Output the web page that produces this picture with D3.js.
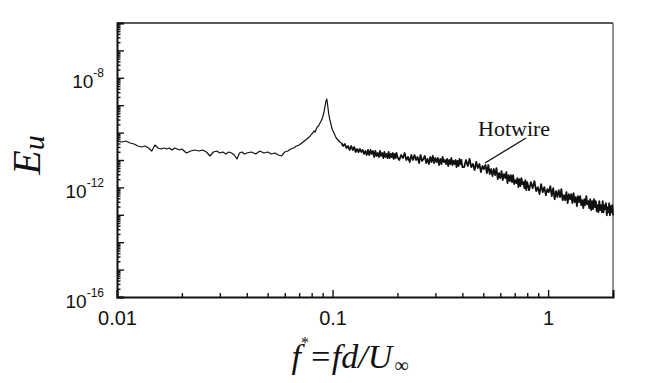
<!DOCTYPE html>
<html><head><meta charset="utf-8">
<script src="https://cdn.jsdelivr.net/npm/d3@7/dist/d3.min.js"></script>
<style>body{margin:0;background:#fff}svg{display:block}</style>
</head><body><svg id="c" width="650" height="383"></svg>
<script>
// ---- data ----
const freqLow = [0.0100,0.0105,0.0110,0.0115,0.0120,0.0125,0.0130,0.0135,0.0140,0.0145,0.0150,0.0155,0.0160,0.0165,0.0170,0.0175,0.0180,0.0185,0.0190,0.0195,0.0200,
 0.021,0.022,0.023,0.024,0.025,0.026,0.027,0.028,0.029,0.030,0.031,0.032,0.033,0.034,0.035,0.036,0.037,0.038,0.039,0.040,
 0.042,0.044,0.046,0.048,0.050,0.052,0.054,0.056,0.058,0.060,0.062,0.064,0.066,0.068,0.070,0.072,0.074,0.076,0.078,0.080];
const euLow = [4.93e-11,4.54e-11,4.93e-11,4.17e-11,3.83e-11,3.24e-11,2.98e-11,3.24e-11,2.74e-11,2.13e-11,3.52e-11,2.74e-11,2.52e-11,2.74e-11,2.52e-11,2.74e-11,2.32e-11,2.74e-11,2.52e-11,2.32e-11,2.52e-11,
 1.80e-11,2.13e-11,2.32e-11,2.13e-11,2.32e-11,1.96e-11,1.40e-11,1.96e-11,2.13e-11,1.80e-11,1.96e-11,1.66e-11,1.96e-11,1.80e-11,1.52e-11,1.09e-11,1.80e-11,1.96e-11,1.66e-11,1.80e-11,
 1.96e-11,1.66e-11,2.13e-11,1.80e-11,1.96e-11,1.66e-11,1.80e-11,1.52e-11,1.40e-11,1.96e-11,2.13e-11,2.52e-11,2.74e-11,3.24e-11,3.52e-11,4.17e-11,4.93e-11,5.84e-11,6.90e-11,8.89e-11];

const freqPeak = [0.081,0.082,0.083,0.084,0.085,0.086,0.087,0.088,0.089,0.090,0.091,0.092,0.093,0.094,0.095,0.096,0.097,0.098,0.099,0.100,0.102,0.104,0.106,0.108,0.110];
const euPeak = [9.67e-11,1.14e-10,1.05e-10,1.35e-10,1.60e-10,1.74e-10,2.06e-10,2.44e-10,2.88e-10,3.71e-10,5.19e-10,7.91e-10,1.31e-9,1.68e-9,9.35e-10,4.77e-10,3.13e-10,2.24e-10,1.60e-10,1.24e-10,8.89e-11,6.35e-11,5.37e-11,4.54e-11,4.17e-11];

const freqHigh = [0.112,0.114,0.116,0.118,0.120,0.122,0.124,0.126,0.128,0.130,0.132,0.134,0.136,0.138,0.140,0.142,0.144,0.146,0.148,0.150,0.152,0.154,0.156,0.158,0.160,0.162,0.164,0.166,0.168,0.170,0.172,0.174,0.176,0.178,0.180,0.182,0.184,0.186,0.188,0.190,0.192,0.194,0.196,0.198,0.200,
 0.204,0.208,0.212,0.216,0.220,0.224,0.228,0.232,0.236,0.240,0.244,0.248,0.252,0.256,0.260,0.264,0.268,0.272,0.276,0.280,0.284,0.288,0.292,0.296,0.300,0.304,0.308,0.312,0.316,0.320,0.324,0.328,0.332,0.336,0.340,0.344,0.348,0.352,0.356,0.360,0.364,0.368,0.372,0.376,0.380,0.384,0.388,0.392,0.396,0.400,
 0.408,0.416,0.424,0.432,0.440,0.448,0.456,0.464,0.472,0.480,0.488,0.496,0.504,0.512,0.520,0.528,0.536,0.544,0.552,0.560,0.568,0.576,0.584,0.592,0.600,0.608,0.616,0.624,0.632,0.640,0.648,0.656,0.664,0.672,0.680,0.688,0.696,0.704,0.712,0.720,0.728,0.736,0.744,0.752,0.760,0.768,0.776,0.784,0.792,0.800,
 0.816,0.832,0.848,0.864,0.880,0.896,0.912,0.928,0.944,0.960,0.976,0.992,1.008,1.024,1.040,1.056,1.072,1.088,1.104,1.120,1.136,1.152,1.168,1.184,1.200,1.216,1.232,1.248,1.264,1.280,1.296,1.312,1.328,1.344,1.360,1.376,1.392,1.408,1.424,1.440,1.456,1.472,1.488,1.504,1.520,1.536,1.552,1.568,1.584,1.600,1.616,1.632,1.648,1.664,1.680,1.696,1.712,1.728,1.744,1.760,1.776,1.792,1.808,1.824,1.840,1.856,1.872,1.888,1.904,1.920,1.936,1.952,1.968,1.984,2.000];
const euHigh = [3.24e-11,3.83e-11,2.74e-11,3.24e-11,2.32e-11,3.24e-11,2.32e-11,2.98e-11,1.96e-11,2.52e-11,1.96e-11,2.52e-11,1.96e-11,2.32e-11,1.66e-11,2.13e-11,1.52e-11,2.32e-11,1.52e-11,2.32e-11,1.66e-11,2.13e-11,1.29e-11,2.13e-11,1.40e-11,1.80e-11,1.29e-11,2.13e-11,1.40e-11,1.80e-11,1.18e-11,1.96e-11,1.29e-11,1.66e-11,1.18e-11,1.96e-11,1.18e-11,1.66e-11,1.29e-11,1.80e-11,1.09e-11,1.66e-11,1.18e-11,1.80e-11,1.29e-11,
 1.00e-11,1.52e-11,1.18e-11,1.80e-11,1.00e-11,1.29e-11,8.45e-12,1.52e-11,1.00e-11,1.52e-11,1.00e-11,1.29e-11,7.77e-12,1.52e-11,9.2e-12,1.09e-11,1.40e-11,7.77e-12,1.09e-11,7.14e-12,1.29e-11,8.45e-12,1.40e-11,7.77e-12,1.18e-11,8.45e-12,1.18e-11,6.56e-12,1.09e-11,7.14e-12,1.29e-11,8.45e-12,1.00e-11,7.14e-12,1.09e-11,6.03e-12,1.00e-11,7.14e-12,1.18e-11,6.56e-12,9.2e-12,7.14e-12,1.00e-11,5.54e-12,9.2e-12,6.03e-12,1.09e-11,7.14e-12,1.00e-11,5.54e-12,
 5.54e-12,1.00e-11,6.03e-12,1.09e-11,5.54e-12,7.14e-12,4.30e-12,8.45e-12,5.09e-12,7.14e-12,3.63e-12,6.03e-12,4.68e-12,6.56e-12,3.34e-12,6.56e-12,3.07e-12,4.68e-12,2.59e-12,4.68e-12,2.82e-12,5.09e-12,2.01e-12,3.34e-12,2.19e-12,3.95e-12,1.85e-12,3.07e-12,2.19e-12,3.63e-12,1.44e-12,2.82e-12,1.70e-12,2.82e-12,1.56e-12,2.82e-12,1.32e-12,1.85e-12,1.44e-12,2.19e-12,1.02e-12,2.01e-12,1.11e-12,2.19e-12,1.32e-12,1.56e-12,9.4e-13,1.85e-12,7.9e-13,1.56e-12,
 7.9e-13,1.56e-12,9.4e-13,1.70e-12,7.3e-13,1.02e-12,5.7e-13,1.32e-12,6.7e-13,1.02e-12,5.2e-13,8.6e-13,6.7e-13,1.11e-12,4.8e-13,9.4e-13,3.7e-13,7.3e-13,4.4e-13,7.9e-13,4.4e-13,8.6e-13,3.4e-13,5.2e-13,3.4e-13,6.7e-13,2.65e-13,5.7e-13,3.7e-13,5.7e-13,2.65e-13,6.2e-13,2.9e-13,4.4e-13,2.05e-13,4.8e-13,2.9e-13,4.8e-13,2.25e-13,3.4e-13,1.75e-13,3.7e-13,2.25e-13,4.8e-13,2.45e-13,3.15e-13,1.75e-13,3.7e-13,1.47e-13,3.15e-13,1.6e-13,3.7e-13,1.9e-13,3.15e-13,1.35e-13,2.25e-13,1.24e-13,3.15e-13,1.47e-13,2.25e-13,1.24e-13,3.15e-13,1.24e-13,2.25e-13,1.6e-13,2.65e-13,9.6e-14,1.9e-13,1.24e-13,2.65e-13,9.6e-14,2.05e-13,1.24e-13,2.25e-13,9.6e-14];

const xMajorTicks = [0.01, 0.1, 1];
const xTickLabels = ["0.01", "0.1", "1"];
const yLabelTicks = [1e-16, 1e-12, 1e-8];
const yTickExponents = ["-16", "-12", "-8"];
const seriesLabel = "Hotwire";

// ---- drawing ----
const svg = d3.select("#c");
const L = 117, R = 613, T = 23, B = 297;
const x = d3.scaleLog().domain([0.01, 2]).range([L, R]);
const y = d3.scaleLog().domain([1e-16, 1e-6]).range([B, T]);

const ptsA = [], ptsB = [];
[[freqLow, euLow], [freqPeak, euPeak]].forEach(([f, e]) => f.forEach((v, i) => ptsA.push([v, e[i]])));
ptsB.push(ptsA[ptsA.length - 1]);
freqHigh.forEach((v, i) => ptsB.push([v, euHigh[i]]));

// minor ticks
const xMinor = [];
for (const d of [0.01, 0.1, 1]) for (let m = 2; m <= 9; m++) if (d * m <= 2) xMinor.push(d * m);
const yMajor = [], yMinor = [];
for (let k = -16; k <= -6; k++) { yMajor.push(Math.pow(10, k)); if (k < -6) for (let m = 2; m <= 9; m++) yMinor.push(m * Math.pow(10, k)); }

// frame (top & right)
svg.append("line").attr("x1", L).attr("x2", R).attr("y1", T).attr("y2", T).attr("stroke", "#222").attr("stroke-width", 1.6);
svg.append("line").attr("x1", R).attr("x2", R).attr("y1", T).attr("y2", B).attr("stroke", "#555").attr("stroke-width", 1.3);

// bottom axis
const gxm = svg.append("g").attr("transform", `translate(0,${B})`)
  .call(d3.axisBottom(x).tickValues(xMinor).tickSize(-4).tickFormat(""));
const gx = svg.append("g").attr("transform", `translate(0,${B})`)
  .call(d3.axisBottom(x).tickValues(xMajorTicks).tickSize(-7).tickPadding(14).tickFormat((d, i) => xTickLabels[i]));
gx.selectAll("text").attr("font-family", "'Liberation Sans', Arial, sans-serif").attr("font-size", 20).attr("fill", "#111");

// left axis
const gym = svg.append("g").attr("transform", `translate(${L},0)`)
  .call(d3.axisLeft(y).tickValues(yMinor).tickSize(-3.5).tickFormat(""));
const gyM = svg.append("g").attr("transform", `translate(${L},0)`)
  .call(d3.axisLeft(y).tickValues(yMajor).tickSize(-7).tickFormat(""));
const gy = svg.append("g").attr("transform", `translate(${L},0)`)
  .call(d3.axisLeft(y).tickValues(yLabelTicks).tickSize(0).tickPadding(13).tickFormat(""));
gy.selectAll(".tick text").each(function (d, i) {
  const t = d3.select(this).attr("dy", null).attr("y", 10)
    .attr("font-family", "'Liberation Sans', Arial, sans-serif").attr("font-size", 19).attr("fill", "#111");
  t.append("tspan").text("10");
  t.append("tspan").attr("dy", -11).attr("font-size", 12).text(yTickExponents[i]);
});

[gxm, gx, gym, gyM, gy].forEach(g => {
  g.selectAll(".tick line").attr("stroke", "#111").attr("stroke-width", 1.4);
  g.select(".domain").attr("stroke", "#111").attr("stroke-width", 2);
});
gy.select(".domain").remove(); gym.select(".domain").remove(); gxm.select(".domain").remove();

// spectrum line
const line = d3.line().x(d => x(d[0])).y(d => y(d[1]));
svg.append("path").datum(ptsA)
  .attr("fill", "none").attr("stroke", "#111").attr("stroke-width", 1.2).attr("stroke-linejoin", "round")
  .attr("d", line);
svg.append("path").datum(ptsB)
  .attr("fill", "none").attr("stroke", "#111").attr("stroke-width", 1.8).attr("stroke-linejoin", "round")
  .attr("d", line);

// annotation
svg.append("text").attr("x", 478).attr("y", 136)
  .attr("font-family", "'Liberation Serif', 'Times New Roman', serif").attr("font-size", 22).attr("fill", "#111")
  .text(seriesLabel);
svg.append("line").attr("x1", 526).attr("y1", 138).attr("x2", 485).attr("y2", 163)
  .attr("stroke", "#111").attr("stroke-width", 1.3);

// axis titles
const xt = svg.append("text").attr("x", 350).attr("y", 368).attr("text-anchor", "middle")
  .attr("font-family", "'Liberation Serif', 'Times New Roman', serif").attr("font-size", 34).attr("fill", "#111");
xt.append("tspan").attr("font-style", "italic").text("f");
xt.append("tspan").attr("font-size", 16).attr("dy", -20).attr("dx", 0).text("*");
xt.append("tspan").attr("font-style", "italic").attr("dy", 20).text("=fd/U");
xt.append("tspan").attr("font-size", 20).attr("dy", 4).attr("dx", 2).text("∞");

const yt = svg.append("text").attr("transform", "translate(40,155) rotate(-90)").attr("text-anchor", "middle")
  .attr("font-family", "'Liberation Serif', 'Times New Roman', serif").attr("font-size", 40).attr("fill", "#111").attr("font-style", "italic");
yt.append("tspan").text("E");
yt.append("tspan").attr("font-size", 30).attr("dy", 4).text("u");
</script></body></html>
